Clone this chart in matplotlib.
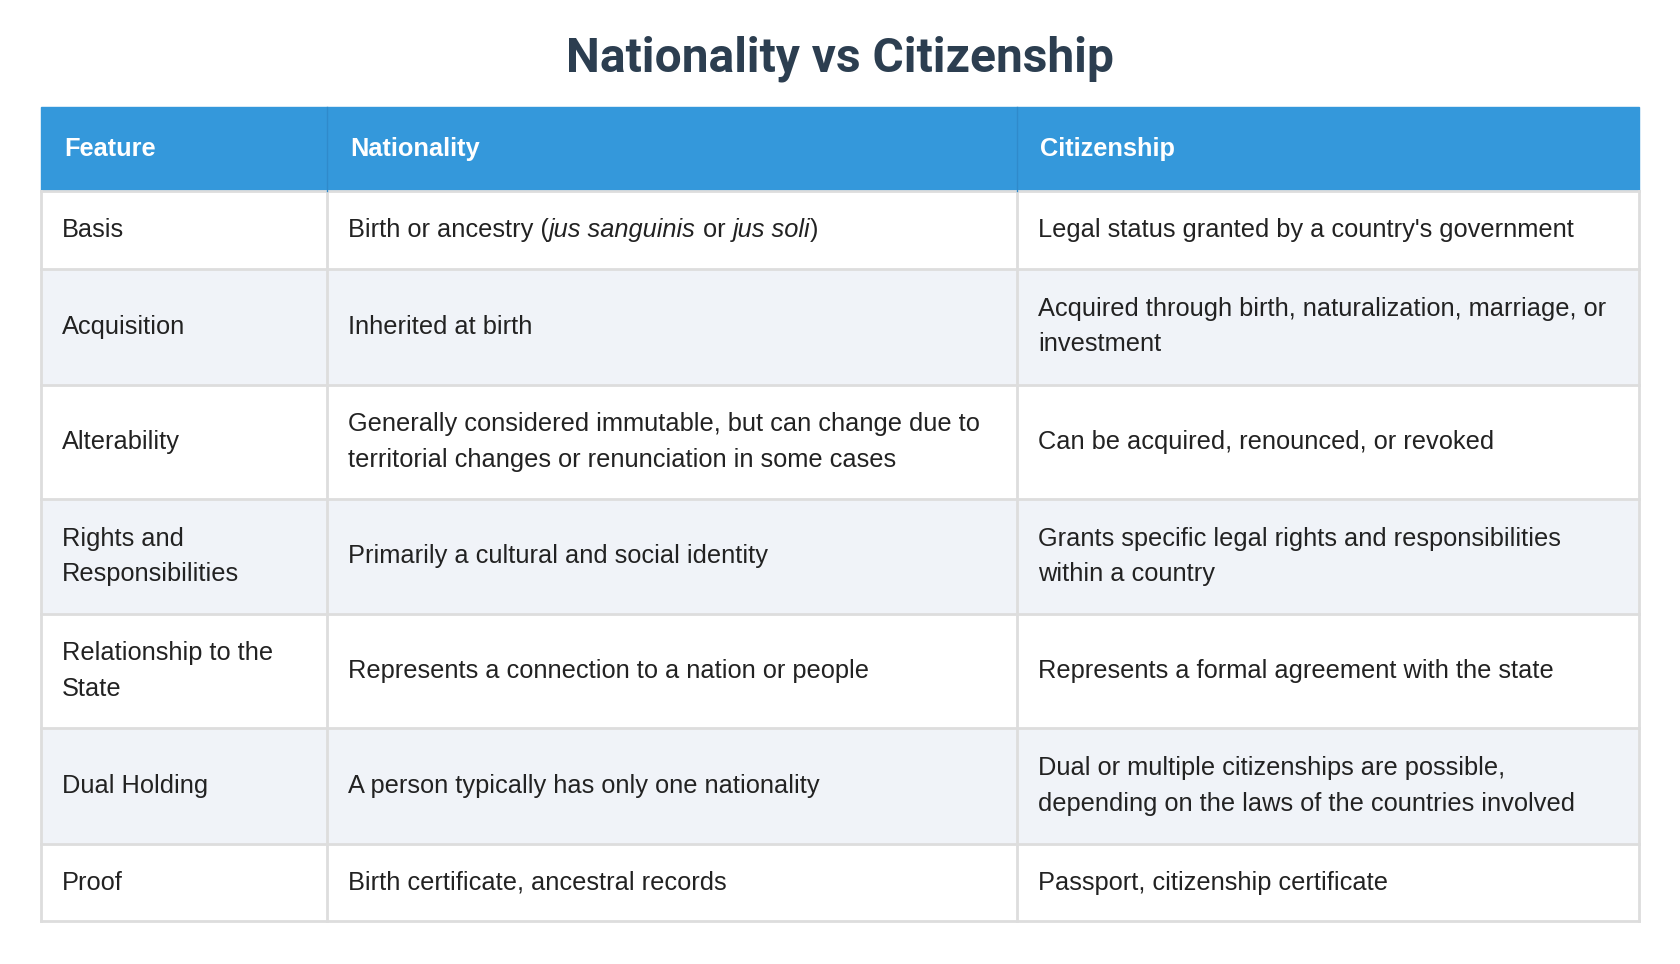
import matplotlib
matplotlib.use("Agg")
import matplotlib.pyplot as plt
from matplotlib.patches import Rectangle

title = "Nationality vs Citizenship"
columns = ["Feature", "Nationality", "Citizenship"]
features = ["Basis", "Acquisition", "Alterability", "Rights and\nResponsibilities",
            "Relationship to the\nState", "Dual Holding", "Proof"]
nationality = ["Birth or ancestry (jus sanguinis or jus soli)", "Inherited at birth",
               "Generally considered immutable, but can change due to\nterritorial changes or renunciation in some cases",
               "Primarily a cultural and social identity",
               "Represents a connection to a nation or people",
               "A person typically has only one nationality",
               "Birth certificate, ancestral records"]
citizenship = ["Legal status granted by a country's government",
               "Acquired through birth, naturalization, marriage, or\ninvestment",
               "Can be acquired, renounced, or revoked",
               "Grants specific legal rights and responsibilities\nwithin a country",
               "Represents a formal agreement with the state",
               "Dual or multiple citizenships are possible,\ndepending on the laws of the countries involved",
               "Passport, citizenship certificate"]

W, H = 1568, 900
fig = plt.figure(figsize=(16.8, 9.64), dpi=100)
ax = fig.add_axes([0, 0, 1, 1])
ax.set_xlim(0, W); ax.set_ylim(H, 0); ax.axis("off")
FONT = "Liberation Sans"
FS = 18.3

ax.text(W/2, 55, title, ha="center", va="center", fontsize=34.5, fontweight="bold",
        color="#2c3e50", family="Roboto")

cols = [38, 305, 949, 1530]
rows = [100, 178, 251, 359, 466, 573, 680, 788, 860]
grid = "#dddddd"

ax.add_patch(Rectangle((cols[0], rows[0]), cols[-1]-cols[0], rows[1]-rows[0], color="#3498db", zorder=1))
for j, c in enumerate(columns):
    ax.text(cols[j]+22, (rows[0]+rows[1])/2, c, ha="left", va="center", fontsize=FS,
            fontweight="bold", color="white", family=FONT, zorder=3)
for i in range(len(features)):
    y0, y1 = rows[i+1], rows[i+2]
    ax.add_patch(Rectangle((cols[0], y0), cols[-1]-cols[0], y1-y0,
                           color="white" if i % 2 == 0 else "#f0f3f8", zorder=1))
    ym = (y0+y1)/2
    for j, txt in enumerate([features[i], nationality[i], citizenship[i]]):
        x = cols[j]+20
        if j == 1 and i == 0:
            parts = [("Birth or ancestry (", "normal"), ("jus sanguinis", "italic"),
                     (" or ", "normal"), ("jus soli", "italic"), (")", "normal")]
            t = ax.text(x, ym, parts[0][0], ha="left", va="center", fontsize=FS,
                        color="#222222", family=FONT, zorder=3)
            for s, st in parts[1:]:
                t = ax.annotate(s, xy=(1, 0), xycoords=t, ha="left", va="bottom",
                                fontsize=FS, style=st, color="#222222", family=FONT, zorder=3)
        else:
            ax.text(x, ym, txt, ha="left", va="center", fontsize=FS, color="#222222",
                    family=FONT, linespacing=1.6, zorder=3)

for y in rows[1:]:
    ax.plot([cols[0], cols[-1]], [y, y], color=grid, lw=2, zorder=2)
for x in cols:
    ax.plot([x, x], [rows[1], rows[-1]], color=grid, lw=2, zorder=2)
for x in cols[1:-1]:
    ax.plot([x, x], [rows[0], rows[1]], color="#2f8acb", lw=1, zorder=2)

fig.savefig("out.png", dpi=100)
